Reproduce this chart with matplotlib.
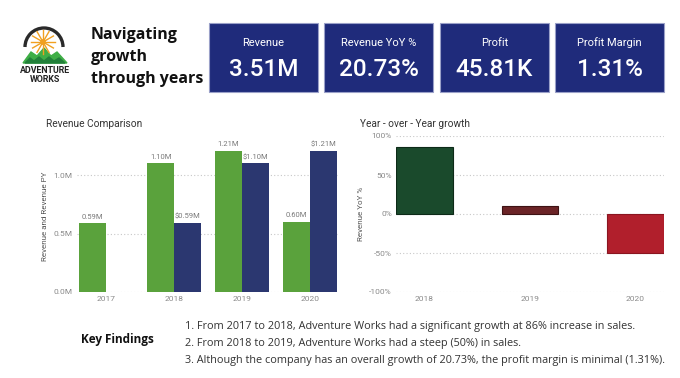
import numpy as np
import matplotlib
matplotlib.use("Agg")
import matplotlib.pyplot as plt
from matplotlib.patches import Rectangle, Polygon, Arc

# ─── data ─────────────────────────────────────
years = ["2017", "2018", "2019", "2020"]
revenue = [0.59, 1.10, 1.21, 0.60]          # millions
revenue_py = [np.nan, 0.59, 1.10, 1.21]     # millions
yoy_years = ["2018", "2019", "2020"]
yoy_pct = [86, 10, -50]

kpi_labels = ["Revenue", "Revenue YoY %", "Profit", "Profit Margin"]
kpi_values = ["3.51M", "20.73%", "45.81K", "1.31%"]

findings = [
    "1. From 2017 to 2018, Adventure Works had a significant growth at 86% increase in sales.",
    "2. From 2018 to 2019, Adventure Works had a steep (50%) in sales.",
    "3. Although the company has an overall growth of 20.73%, the profit margin is minimal (1.31%).",
]

plt.rcParams['font.family'] = ['Open Sans', 'DejaVu Sans']
CHART_FONT = ['Roboto', 'DejaVu Sans']

W, H = 680, 378
fig = plt.figure(figsize=(W / 100, H / 100), dpi=100)
fig.patch.set_facecolor("white")


def px_axes(x, y, w, h):
    return fig.add_axes([x / W, 1 - (y + h) / H, w / W, h / H])


def fx(x):
    return x / W


def fy(y):
    return 1 - y / H


NAVY = "#1f2b7b"
GREEN = "#5aa23c"
BAR_NAVY = "#2b3770"
GRAY = "#7a7a7a"

# ─── logo ─────────────────────────────────────
lg = px_axes(15, 22, 62, 68)
lg.set_xlim(0, 62)
lg.set_ylim(68, 0)
lg.axis("off")
lg.add_patch(Arc((29, 25), 38, 38, theta1=180, theta2=360, color="#2a2a2a", lw=2.4))
# sun rays
for ang in np.linspace(0, 2 * np.pi, 12, endpoint=False):
    lg.plot([28, 28 + 12 * np.cos(ang)], [20, 20 + 12 * np.sin(ang)], color="#f0a020", lw=1.0)
lg.add_patch(plt.Circle((28, 20), 2.2, color="#f0a020"))
# mountains
lg.add_patch(Polygon([[8, 41], [16, 30], [22, 34], [29, 26], [36, 34], [42, 30], [52, 41]],
                     closed=True, color="#3fae46"))
lg.add_patch(Polygon([[10, 41], [15, 36], [19, 39], [24, 35], [29, 39], [34, 35], [39, 39],
                      [44, 36], [50, 41]], closed=True, color="#22803a"))
lg.text(30, 48.5, "ADVENTURE", ha="center", va="center", fontsize=6.4, fontweight="bold",
        color="#222222", family=CHART_FONT)
lg.text(30, 57, "WORKS", ha="center", va="center", fontsize=6.4, fontweight="bold",
        color="#222222", family=CHART_FONT)

# ─── title ────────────────────────────────────
for i, line in enumerate(["Navigating", "growth", "through years"]):
    fig.text(fx(91), fy(35 + 22 * i), line, fontsize=11.5, fontweight="bold",
             color="#111111", va="center", ha="left")

# ─── KPI cards ────────────────────────────────
card_x = [209, 324, 440, 555]
for cx, lab, val in zip(card_x, kpi_labels, kpi_values):
    ax = px_axes(cx, 23, 109, 69)
    ax.set_xlim(0, 1)
    ax.set_ylim(0, 1)
    ax.axis("off")
    ax.add_patch(Rectangle((0, 0), 1, 1, facecolor=NAVY, edgecolor="#9aa0c8", lw=0.8,
                           transform=ax.transAxes, clip_on=False))
    ax.text(0.5, 0.71, lab, ha="center", va="center", color="white", fontsize=8,
            family=CHART_FONT)
    ax.text(0.5, 0.33, val, ha="center", va="center", color="white", fontsize=17.5,
            fontweight="medium", family=CHART_FONT)

# ─── revenue comparison ───────────────────────
fig.text(fx(46), fy(124), "Revenue Comparison", fontsize=7.3, color="#333333", va="center",
         family=CHART_FONT)
ax1 = px_axes(77, 140, 261, 152)
x = np.arange(len(years))
bw = 0.4
ax1.bar(x - bw / 2, revenue, bw, color=GREEN, zorder=3)
ax1.bar(x + bw / 2, revenue_py, bw, color=BAR_NAVY, zorder=3)
for xi, v in zip(x, revenue):
    ax1.text(xi - bw / 2, v + 0.03, f"{v:.2f}M", ha="center", va="bottom", fontsize=5.5,
             color=GRAY, family=CHART_FONT)
for xi, v in zip(x, revenue_py):
    if not np.isnan(v):
        ax1.text(xi + bw / 2, v + 0.03, f"${v:.2f}M", ha="center", va="bottom", fontsize=5.5,
                 color=GRAY, family=CHART_FONT)
ax1.set_xlim(-0.43, 3.41)
ax1.set_ylim(0, 1.3)
ax1.set_yticks([0, 0.5, 1.0])
ax1.set_yticklabels(["0.0M", "0.5M", "1.0M"])
ax1.set_xticks(x)
ax1.set_xticklabels(years)
ax1.set_ylabel("Revenue and Revenue PY", fontsize=5.8, color="#555555", labelpad=4,
               family=CHART_FONT)

# ─── YoY growth ───────────────────────────────
fig.text(fx(360), fy(124), "Year - over - Year growth", fontsize=7.3, color="#333333",
         va="center", family=CHART_FONT)
ax2 = px_axes(396, 136, 268, 156)
xs = np.arange(len(yoy_years))
ybw = 0.54
yoy_cols = ["#1a4a2c", "#6b2427", "#b11f2c"]
yoy_edges = ["#0d2a18", "#3d1214", "#8a1520"]
ax2.bar(xs, yoy_pct, ybw, color=yoy_cols, edgecolor=yoy_edges, lw=0.8, zorder=3)
ax2.set_xlim(-ybw / 2, 2 + ybw / 2)
ax2.set_ylim(-100, 100)
ax2.set_yticks([-100, -50, 0, 50, 100])
ax2.set_yticklabels(["-100%", "-50%", "0%", "50%", "100%"])
ax2.set_xticks(xs)
ax2.set_xticklabels(yoy_years)
ax2.set_ylabel("Revenue YoY %", fontsize=5.8, color="#555555", labelpad=4, family=CHART_FONT)

for ax in (ax1, ax2):
    ax.set_facecolor("white")
    for s in ax.spines.values():
        s.set_visible(False)
    ax.tick_params(length=0, labelsize=6, labelcolor="#8a8a8a", pad=3)
    for lab in ax.get_xticklabels() + ax.get_yticklabels():
        lab.set_family(CHART_FONT)
    ax.grid(axis="y", color="#c8c8c8", linestyle=(0, (1, 2)), lw=0.8, zorder=0)
    ax.set_axisbelow(True)

# ─── key findings ─────────────────────────────
fig.text(fx(81), fy(339), "Key Findings", fontsize=8.5, fontweight="bold", color="#111111",
         va="center")
for i, line in enumerate(findings):
    fig.text(fx(185), fy(327 + 16.5 * i), line, fontsize=7.85, color="#333333", va="center")

fig.savefig("out.png", dpi=100)
